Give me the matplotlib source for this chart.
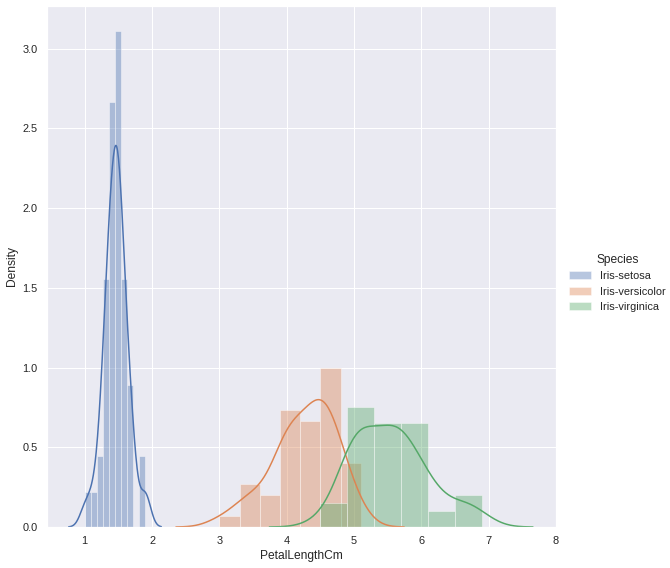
import numpy as np
import matplotlib
matplotlib.use("Agg")
import matplotlib.pyplot as plt
import seaborn as sns

# petal lengths (cm) per species
species = ["Iris-setosa", "Iris-versicolor", "Iris-virginica"]
setosa = [1.4, 1.4, 1.3, 1.5, 1.4, 1.7, 1.4, 1.5, 1.4, 1.5, 1.5, 1.6, 1.4, 1.1, 1.2,
          1.5, 1.3, 1.4, 1.7, 1.5, 1.7, 1.5, 1.0, 1.7, 1.9, 1.6, 1.6, 1.5, 1.4, 1.6,
          1.6, 1.5, 1.5, 1.4, 1.5, 1.2, 1.3, 1.5, 1.3, 1.5, 1.3, 1.3, 1.3, 1.6, 1.9,
          1.4, 1.6, 1.4, 1.5, 1.4]
versicolor = [4.7, 4.5, 4.9, 4.0, 4.6, 4.5, 4.7, 3.3, 4.6, 3.9, 3.5, 4.2, 4.0, 4.7, 3.6,
              4.4, 4.5, 4.1, 4.5, 3.9, 4.8, 4.0, 4.9, 4.7, 4.3, 4.4, 4.8, 5.0, 4.5, 3.5,
              3.8, 3.7, 3.9, 5.1, 4.5, 4.5, 4.7, 4.4, 4.1, 4.0, 4.4, 4.6, 4.0, 3.3, 4.2,
              4.2, 4.2, 4.3, 3.0, 4.1]
virginica = [6.0, 5.1, 5.9, 5.6, 5.8, 6.6, 4.5, 6.3, 5.8, 6.1, 5.1, 5.3, 5.5, 5.0, 5.1,
             5.3, 5.5, 6.7, 6.9, 5.0, 5.7, 4.9, 6.7, 4.9, 5.7, 6.0, 4.8, 4.9, 5.6, 5.8,
             6.1, 6.4, 5.6, 5.1, 5.6, 6.1, 5.6, 5.5, 4.8, 5.4, 5.6, 5.1, 5.1, 5.9, 5.7,
             5.2, 5.0, 5.2, 5.4, 5.1]
values = [setosa, versicolor, virginica]


def fd_bins(a):
    # Freedman-Diaconis rule, like the old distplot
    a = np.asarray(a)
    iqr = np.subtract(*np.percentile(a, [75, 25]))
    h = 2 * iqr / (len(a) ** (1 / 3))
    return min(int(np.ceil((a.max() - a.min()) / h)), 50)


def kde_curve(a, gridsize=200, cut=3):
    a = np.asarray(a)
    bw = len(a) ** (-1 / 5) * a.std(ddof=1)
    x = np.linspace(a.min() - cut * bw, a.max() + cut * bw, gridsize)
    y = np.exp(-0.5 * ((x[:, None] - a[None, :]) / bw) ** 2).sum(axis=1)
    y /= len(a) * bw * np.sqrt(2 * np.pi)
    return x, y


sns.set_theme(style="darkgrid")
plt.rcParams["font.family"] = ["Liberation Sans", "DejaVu Sans"]

fig = plt.figure(figsize=(670 / 72, 568 / 72), dpi=72)
ax = fig.add_axes([47 / 670, 41 / 568, 509 / 670, 521 / 568])

colors = sns.color_palette("deep", 3)
for name, vals, c in zip(species, values, colors):
    ax.hist(vals, bins=fd_bins(vals), density=True, alpha=0.4, color=c, label=name)
    kx, ky = kde_curve(vals)
    ax.plot(kx, ky, color=c, lw=1.5)

ax.set_xlim(0.44, 8.0)
ax.set_xlabel("PetalLengthCm")
ax.set_ylabel("Density")

fig.legend(title="Species", loc="center left", bbox_to_anchor=(0.835, 0.502),
           frameon=False, fontsize=11, title_fontsize=12)

fig.savefig("out.png", dpi=72)
